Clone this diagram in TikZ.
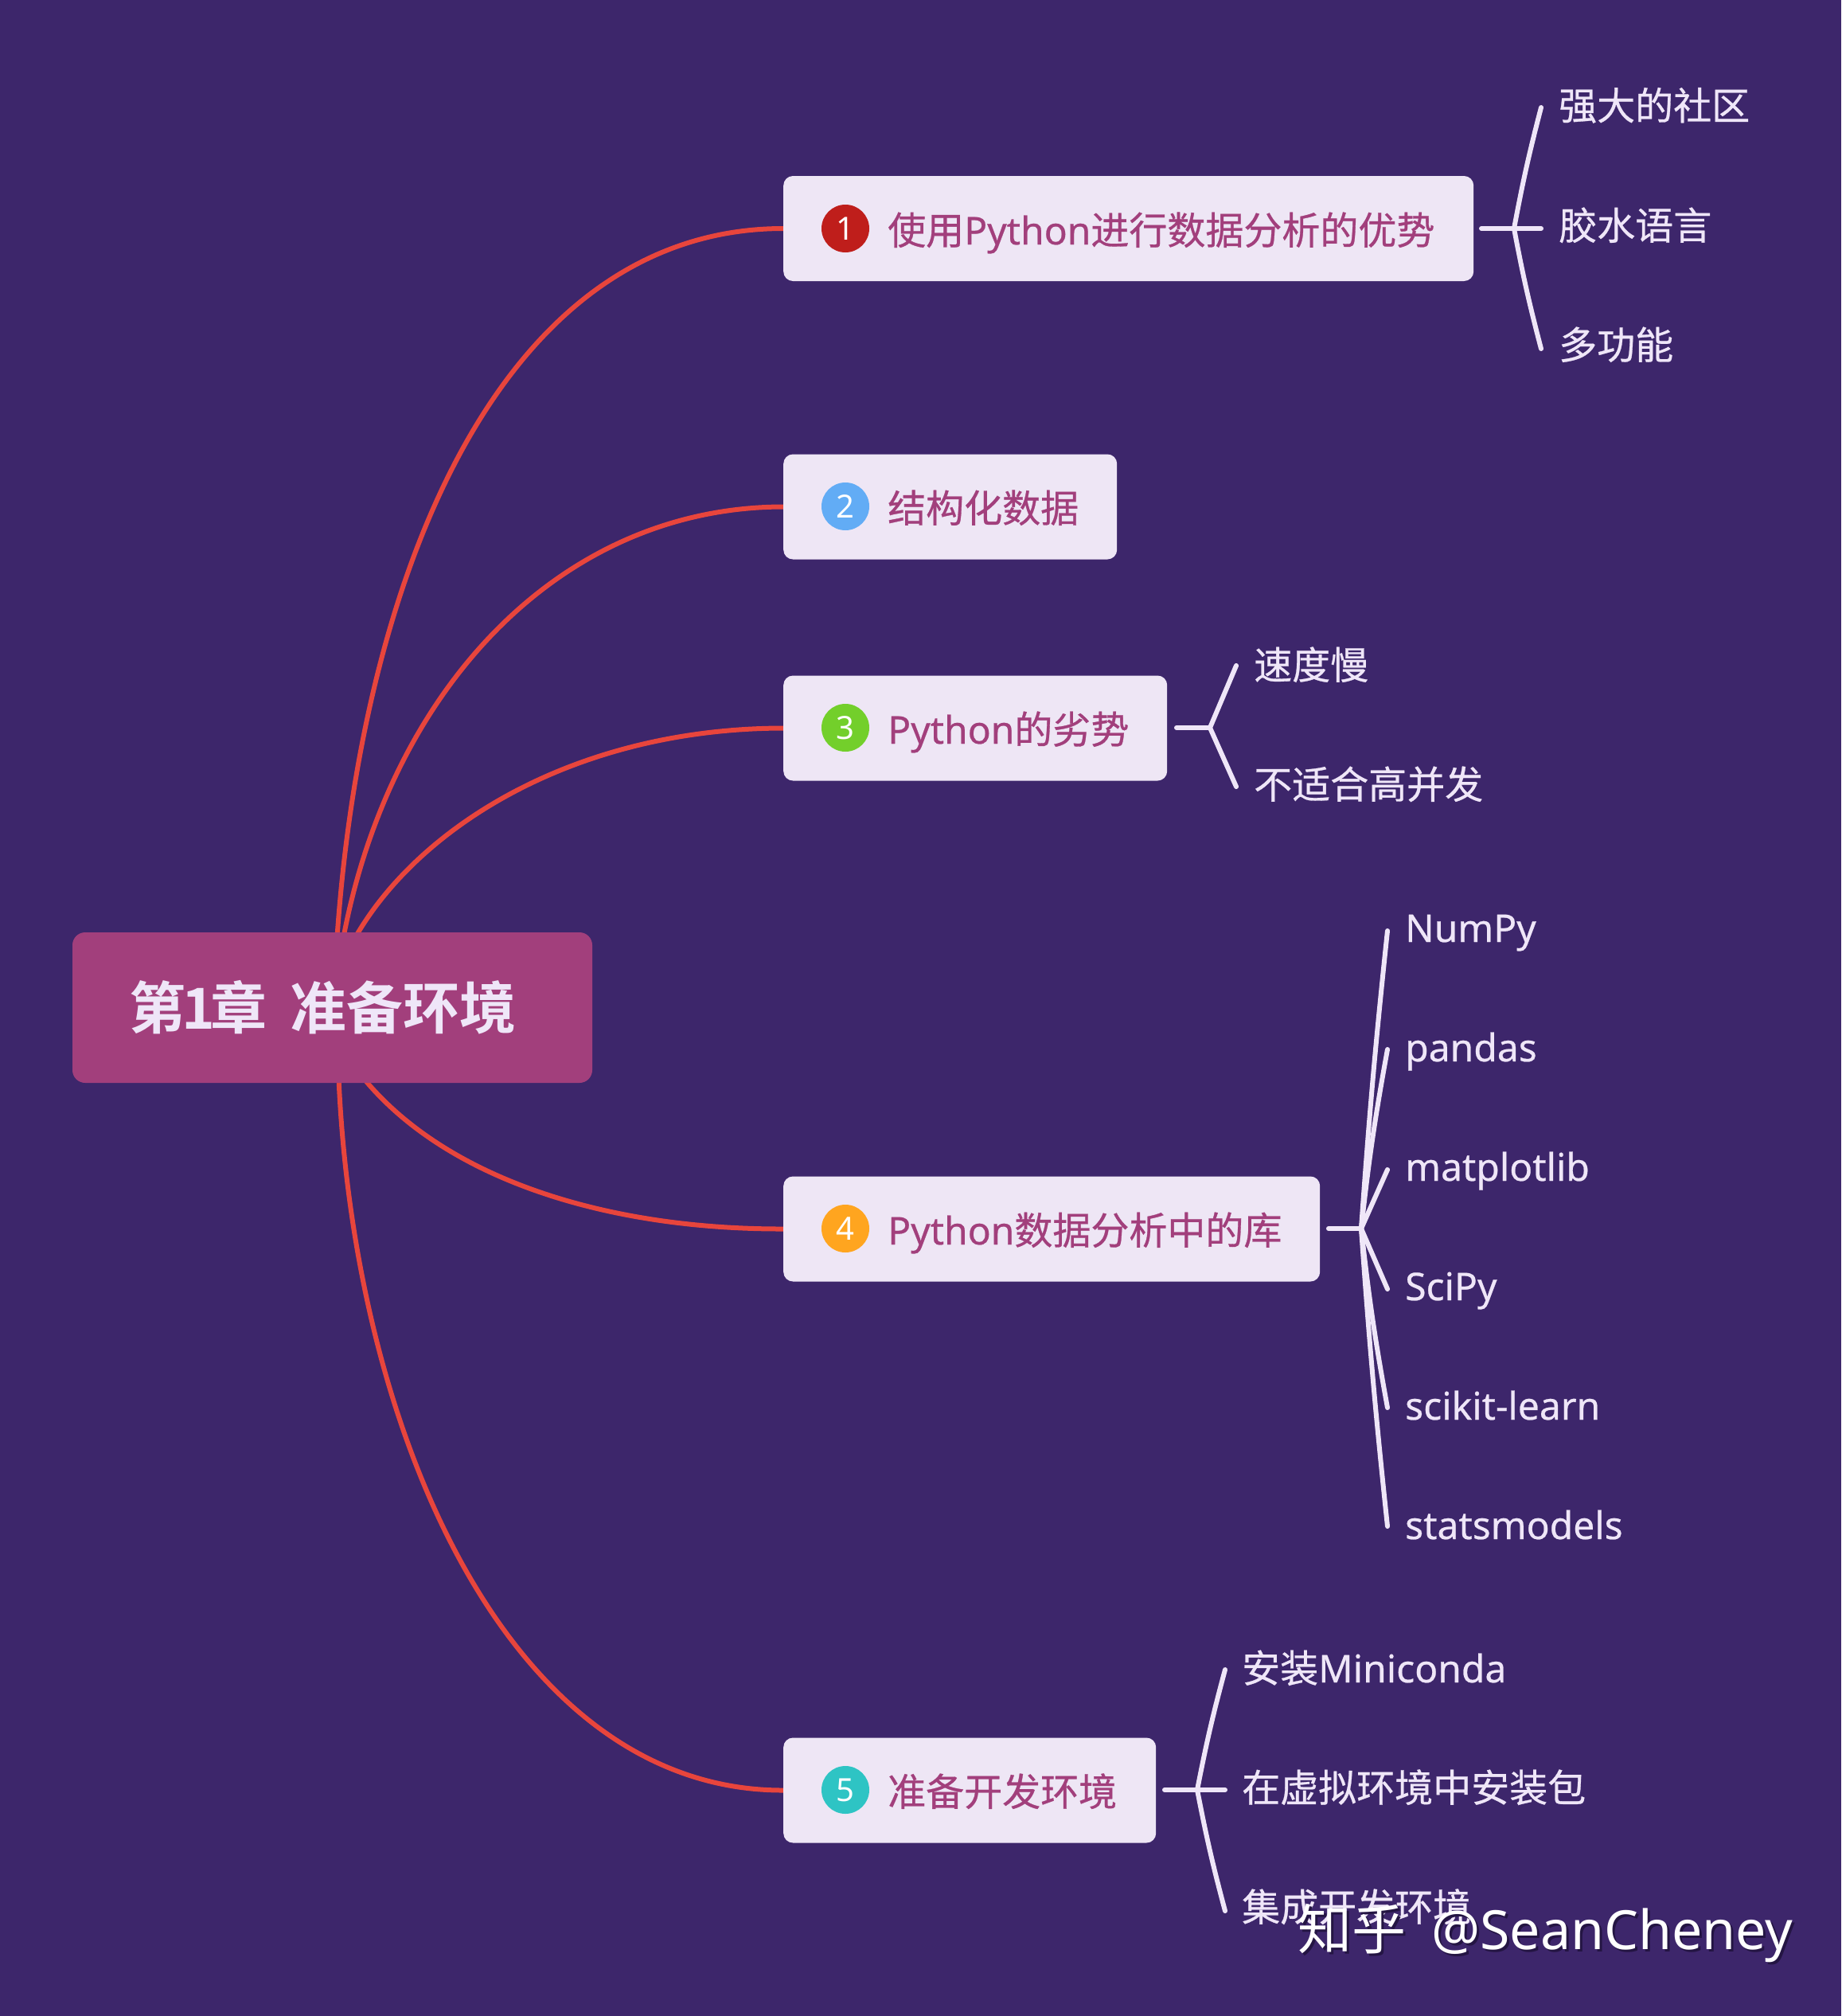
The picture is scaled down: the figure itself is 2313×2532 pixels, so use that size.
\documentclass[tikz,border=0pt]{standalone}
\usepackage{fontspec}
\setmainfont{Noto Sans CJK SC}[BoldFont={* Bold},FakeBold=0.6,BoldFeatures={FakeBold=0}]
\newfontfamily\lat{Noto Sans}[FakeBold=0.5]
\newfontfamily\cjkplain{Noto Sans CJK SC}
\newfontfamily\latplain{Noto Sans}
\usetikzlibrary{calc}
\definecolor{bgc}{HTML}{3D266B}
\definecolor{boxc}{HTML}{EEE6F5}
\definecolor{rootc}{HTML}{A23F7C}
\definecolor{redc}{HTML}{E8453C}
\definecolor{txtc}{HTML}{EFE6F8}
\definecolor{shad}{HTML}{241543}
\definecolor{b1c}{HTML}{BF1E1B}
\definecolor{b2c}{HTML}{62ACF5}
\definecolor{b3c}{HTML}{73CF2B}
\definecolor{b4c}{HTML}{FFA51F}
\definecolor{b5c}{HTML}{2EC4C4}
\newcommand{\Lt}[1]{{\lat #1}}
\tikzset{
 rootbox/.style={fill=rootc,rounded corners=16,minimum width=653,minimum height=189,inner sep=0,text=txtc,font=\fontsize{71}{80}\selectfont\bfseries},
 mainbox/.style={fill=boxc,rounded corners=12,minimum height=132,inner sep=0,anchor=west},
 maintext/.style={anchor=west,inner sep=0,text height=42,text depth=6,text=rootc,font=\fontsize{48}{58}\selectfont},
 kidtext/.style={anchor=west,inner ysep=0,inner xsep=22,text height=42,text depth=6,text=txtc,font=\fontsize{48}{58}\selectfont},
 badge/.style={circle,minimum size=60,inner sep=0,text=white,font=\latplain\fontsize{40}{44}\selectfont},
 redline/.style={draw=redc,line width=6,line cap=round},
 kidline/.style={draw=txtc,line width=6,line cap=round},
 wmark/.style={anchor=base west,inner sep=0,font=\cjkplain\fontsize{68}{80}\selectfont},
}
\begin{document}
\begin{tikzpicture}[x=1pt,y=-1pt]
\useasboundingbox (0,0) rectangle (2313,2532);
\fill[bgc] (0,0) rectangle (2313,2532);
% red curves first, so that the boxes cover their starts
\coordinate (rt) at (417.5,1171);
\coordinate (rb) at (417.5,1360);
\coordinate (s1) at ($(rt)+(6,6)$);
\coordinate (s2) at ($(rt)+(14,6)$);
\coordinate (s3) at ($(rt)+(29,6)$);
\coordinate (s4) at ($(rb)+(39,-6)$);
\coordinate (s5) at ($(rb)+(8,-6)$);
\coordinate (a1) at (984,287);
\coordinate (a2) at (984,636.5);
\coordinate (a3) at (984,914.5);
\coordinate (a4) at (984,1543.5);
\coordinate (a5) at (984,2248.5);
\draw[redline] (s1) .. controls (455,720) and (630,287) .. (a1);
\draw[redline] (s2) .. controls (490,870) and (700,637) .. (a2);
\draw[redline] (s3) .. controls (525,1040) and (720,915) .. (a3);
\draw[redline] (s4) .. controls (560,1480) and (760,1544) .. (a4);
\draw[redline] (s5) .. controls (445,1800) and (640,2249) .. (a5);
% boxes
\node[rootbox] (root) at (417.5,1265.5) {\raisebox{-3pt}{第\kern-5pt1\kern-6pt章\hspace{30pt}准备环境}\hspace*{24pt}};
\node[mainbox,minimum width=867] (b1) at (a1) {};
\node[mainbox,minimum width=419] (b2) at (a2) {};
\node[mainbox,minimum width=482] (b3) at (a3) {};
\node[mainbox,minimum width=674] (b4) at (a4) {};
\node[mainbox,minimum width=468] (b5) at (a5) {};
\node[badge,fill=b1c] (n1) at (1062,287) {1};
\node[badge,fill=b2c] (n2) at (1062,636) {2};
\node[badge,fill=b3c] (n3) at (1062,914) {3};
\node[badge,fill=b4c] (n4) at (1062,1543) {4};
\node[badge,fill=b5c] (n5) at (1062,2248) {5};
\node[maintext] (t1) at (1115,289) {使用\Lt{Python}进行数据分析的优势};
\node[maintext] (t2) at (1115,638) {结构化数据};
\node[maintext] (t3) at (1115,916) {\Lt{Python}的劣势};
\node[maintext] (t4) at (1115,1545) {\Lt{Python}数据分析中的库};
\node[maintext] (t5) at (1115,2250) {准备开发环境};
% children
\node[kidtext] (k11) at (1936,132.5) {强大的社区};
\node[kidtext] (k12) at (1936,283) {胶水语言};
\node[kidtext] (k13) at (1936,433) {多功能};
\node[kidtext] (k31) at (1553,835) {速度慢};
\node[kidtext] (k32) at (1553,985) {不适合高并发};
\node[kidtext] (k41) at (1743,1165) {\Lt{NumPy}};
\node[kidtext] (k42) at (1743,1315) {\Lt{pandas}};
\node[kidtext] (k43) at (1743,1465) {\Lt{matplotlib}};
\node[kidtext] (k44) at (1743,1615) {\Lt{SciPy}};
\node[kidtext] (k45) at (1743,1765) {\Lt{scikit-learn}};
\node[kidtext] (k46) at (1743,1915) {\Lt{statsmodels}};
\node[kidtext] (k51) at (1538,2095) {安装\Lt{Miniconda}};
\node[kidtext] (k52) at (1538,2245) {在虚拟环境中安装包};
\node[kidtext] (k53) at (1538,2395) {集成开发环境};
% stems
\coordinate (e1) at (1861,287);\coordinate (j1) at (1902,287);\coordinate (f1) at (1936,287);
\coordinate (e3) at (1478,914);\coordinate (j3) at (1520,914);
\coordinate (e4) at (1669,1543);\coordinate (j4) at (1710,1543);
\coordinate (e5) at (1463,2248);\coordinate (j5) at (1504,2248);\coordinate (f5) at (1539,2248);
\coordinate (c11) at (1936,135);\coordinate (c13) at (1936,438);
\coordinate (c31) at (1553,836);\coordinate (c32) at (1553,988);
\coordinate (c41) at (1743,1169);\coordinate (c42) at (1743,1318);\coordinate (c43) at (1743,1469);
\coordinate (c44) at (1743,1619);\coordinate (c45) at (1743,1768);\coordinate (c46) at (1743,1917);
\coordinate (c51) at (1539,2097);\coordinate (c53) at (1539,2400);
\draw[kidline] (e1) -- (f1);
\draw[kidline] (e3) -- (j3);
\draw[kidline] (e4) -- (j4);
\draw[kidline] (e5) -- (f5);
\draw[kidline] (j1) to[bend left=2] (c11);
\draw[kidline] (j1) to[bend right=2] (c13);
\draw[kidline] (j3) -- (c31);
\draw[kidline] (j3) -- (c32);
\draw[kidline] (j4) to[bend left=1] (c41);
\draw[kidline] (j4) to[bend left=2] (c42);
\draw[kidline] (j4) -- (c43);
\draw[kidline] (j4) -- (c44);
\draw[kidline] (j4) to[bend right=2] (c45);
\draw[kidline] (j4) to[bend right=1] (c46);
\draw[kidline] (j5) to[bend left=2] (c51);
\draw[kidline] (j5) to[bend right=2] (c53);
% watermark
\node[wmark,text=shad] (wms) at (1633,2451) {知乎\hspace{32pt}{\latplain\fontsize{68}{80}\selectfont @SeanCheney}};
\node[wmark,text=white] (wm) at (1630,2448) {知乎\hspace{32pt}{\latplain\fontsize{68}{80}\selectfont @SeanCheney}};
\end{tikzpicture}
\end{document}
